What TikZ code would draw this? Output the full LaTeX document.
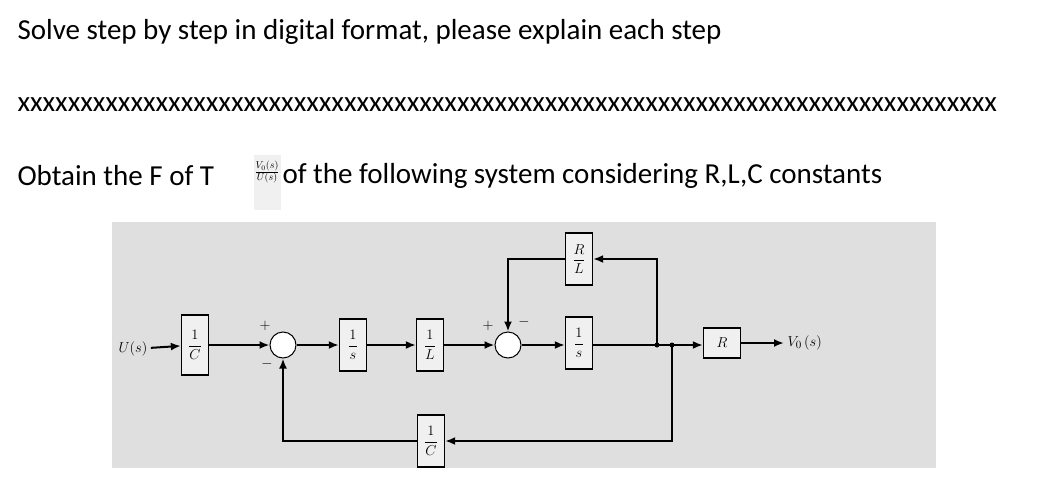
\documentclass[tikz,border=0pt]{standalone}
\usepackage{fontspec}
\setmainfont{Carlito}
\usetikzlibrary{arrows.meta}
\begin{document}
\begin{tikzpicture}
        [x=1pt, y=-1pt,
        txt/.style={anchor=west, font=\fontsize{29}{32}\selectfont},
        block/.style={draw, line width=1.3pt, fill=gray!12, minimum width=27pt, inner sep=1pt, font=\fontsize{15}{17}\selectfont},
        sum/.style={circle, draw, line width=1pt, fill=white, minimum size=26pt, inner sep=0pt},
        sig/.style={line width=2pt, -{Latex[length=10pt,width=8pt]}},
        wire/.style={line width=2pt},
        lbl/.style={font=\fontsize{15}{17}\selectfont}]

        \useasboundingbox (0,0) rectangle (1054,482);

        % question text
        \node[txt] (q1) at (14,32) {Solve step by step in digital format, please explain each step};
        \node[txt] (q2) at (14,105) {xxxxxxxxxxxxxxxxxxxxxxxxxxxxxxxxxxxxxxxxxxxxxxxxxxxxxxxxxxxxxxxxxxxxxxxxxxxxxx};
        \node[txt] (q3a) at (14,176) {Obtain the F of T};
        \fill[gray!12] (254,155) rectangle (281,210);
        \node[font=\fontsize{14}{16}\selectfont, inner sep=0pt] (tf) at (267,172) {$\frac{V_0(s)}{U(s)}$};
        \node[txt] (q3b) at (279,176) {of the following system considering R,L,C constants};

        % diagram background
        \fill[gray!25] (112,222) rectangle (936,468);

        \node[lbl] (u) at (133,349) {$U(s)$};
        \node[block, minimum height=60pt] (c1) at (195,345) {$\displaystyle\frac{1}{C}$};
        \node[sum] (s1) at (283,345) {};
        \node[block, minimum height=52pt] (i1) at (353,345) {$\displaystyle\frac{1}{s}$};
        \node[block, minimum height=52pt] (l1) at (430,345) {$\displaystyle\frac{1}{L}$};
        \node[sum] (s2) at (508,345) {};
        \node[block, minimum height=52pt] (i2) at (579,343) {$\displaystyle\frac{1}{s}$};
        \node[block, minimum height=52pt] (rl) at (579,259) {$\displaystyle\frac{R}{L}$};
        \node[block, minimum width=37pt, minimum height=30pt] (r) at (722,343) {$R$};
        \node[lbl, anchor=west] (vo) at (784,343) {$V_0\,(s)$};
        \node[block, minimum height=52pt] (c2) at (431,441) {$\displaystyle\frac{1}{C}$};
        \coordinate (p1) at (657,345);
        \coordinate (p2) at (672,345);

        % signs
        \node[lbl] at (265,326) {$+$};
        \node[lbl] at (267,364) {$-$};
        \node[lbl] at (488,326) {$+$};
        \node[lbl] at (524,322) {$-$};

        % forward path
        \draw[sig] (u) -- (c1);
        \draw[sig] (c1) -- (s1);
        \draw[sig] (s1) -- (i1);
        \draw[sig] (i1) -- (l1);
        \draw[sig] (l1) -- (s2);
        \draw[sig] (s2) -- (i2.west |- s2);
        \draw[wire] (i2.east |- p1) -- (p2);
        \draw[sig] (p2) -- (r.west |- p2);
        \draw[sig] (r) -- (vo);
        \fill (p1) circle (2.5pt) (p2) circle (2.5pt);

        % feedback loops
        \draw[sig] (p1) |- (rl.east);
        \draw[sig] (rl.west) -| (s2.north);
        \draw[sig] (p2) |- (c2.east);
        \draw[sig] (c2.west) -| (s1.south);

    \end{tikzpicture}
\end{document}
